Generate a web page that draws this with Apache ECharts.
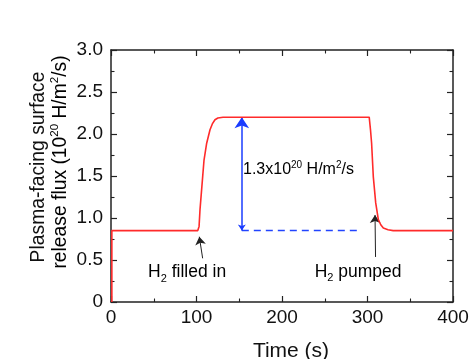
<!DOCTYPE html>
<html><head><meta charset="utf-8">
<script src="https://cdn.jsdelivr.net/npm/echarts@6/dist/echarts.min.js"></script>
<style>html,body{margin:0;padding:0;background:#fff}#c{width:474px;height:359px}</style>
</head><body><div id="c"></div>
<script>
// ---- data ----
const timeS = [1, 1, 101.5, 103, 104.1, 107.2, 108.8, 111.9, 115.8, 118.5, 121.6, 125, 131, 140, 302, 303.5, 304.8, 306.8, 309.6, 312.7, 315.5, 318.5, 324, 330, 400];
const flux  = [0, 0.85, 0.85, 0.9, 1.10, 1.49, 1.69, 1.89, 2.05, 2.12, 2.17, 2.19, 2.20, 2.20, 2.20, 2.05, 1.89, 1.49, 1.18, 0.98, 0.92, 0.88, 0.86, 0.85, 0.85];
const xTickValues = [0, 100, 200, 300, 400];
const yTickLabels = ['0', '0.5', '1.0', '1.5', '2.0', '2.5', '3.0'];
const deltaTime = 153;          // position of the blue double arrow (s)
const baseFlux = 0.85;
const peakFlux = 2.2;
const dashEndTime = 293;
const fillArrow = [[107.2, 0.52], [103.3, 0.777]];
const pumpArrow = [[309.4, 0.536], [308.8, 1.036]];

const FONT = 'Liberation Sans, Arial, sans-serif';
const AX = '#222';

const chart = echarts.init(document.getElementById('c'), null, {renderer: 'canvas'});

function axisCommon(pos, showLabel, isY) {
  return {
    type: 'value', position: pos,
    min: 0, max: isY ? 3 : 400, interval: isY ? 0.5 : 100,
    axisLine: {show: true, onZero: false, lineStyle: {color: AX, width: 1.5}},
    axisTick: {show: true, inside: true, length: 6, lineStyle: {color: AX, width: 1.2}},
    minorTick: {show: true, splitNumber: 2, length: 3.5, lineStyle: {color: AX, width: 1.1}},
    splitLine: {show: false},
    axisLabel: showLabel ? {
      show: true, color: '#111', fontSize: 19, fontFamily: FONT, margin: isY ? 8 : 6,
      formatter: isY ? (v => yTickLabels[Math.round(v / 0.5)]) : (v => String(xTickValues[Math.round(v / 100)]))
    } : {show: false}
  };
}

chart.setOption({
  animation: false,
  backgroundColor: '#fff',
  grid: {left: 111, right: 21, top: 50, bottom: 57},
  xAxis: [axisCommon('bottom', true, false), axisCommon('top', false, false)],
  yAxis: [axisCommon('left', true, true), axisCommon('right', false, true)],
  series: [
    {
      type: 'line', data: timeS.map((t, i) => [t, flux[i]]),
      showSymbol: false, symbol: 'none', smooth: false,
      lineStyle: {color: '#ff2b2b', width: 1.6}, z: 5
    },
    {
      type: 'line', data: [[deltaTime, baseFlux], [dashEndTime, baseFlux]],
      showSymbol: false, symbol: 'none',
      lineStyle: {color: '#2244ff', width: 1.5, type: [7, 5]}, z: 3
    },
    {
      type: 'lines', coordinateSystem: 'cartesian2d',
      data: [{coords: [[deltaTime, baseFlux], [deltaTime, peakFlux]]}],
      symbol: ['arrow', 'arrow'], symbolSize: [6, 11],
      lineStyle: {color: '#1a3cff', width: 1.5, opacity: 1}, z: 4
    },
    {
      type: 'lines', coordinateSystem: 'cartesian2d',
      data: [{coords: fillArrow}, {coords: pumpArrow}],
      symbol: ['none', 'arrow'], symbolSize: [5, 8],
      lineStyle: {color: '#222', width: 1, opacity: 1}, z: 4
    }
  ]
});

const px = (t, v) => chart.convertToPixel({xAxisIndex: 0, yAxisIndex: 0}, [t, v]);
const subsup = {
  sub: {fontSize: 11, fontFamily: FONT, color: '#111', verticalAlign: 'bottom', lineHeight: 24},
  n: {fontSize: 17.5, fontFamily: FONT, color: '#111', lineHeight: 22}
};
const pFlux = px(154.4, 1.571);
const pFillTxt = px(89, 0.35);
const pPumpTxt = px(289, 0.36);

chart.setOption({
  graphic: [
    {type: 'text', x: pFlux[0], y: pFlux[1], style: {
      text: '{m|1.3x10}{s|20}{m| H/m}{s|2}{m|/s}', align: 'left', verticalAlign: 'middle',
      rich: {m: {fontSize: 16, fontFamily: FONT, color: '#111', lineHeight: 20},
             s: {fontSize: 10, fontFamily: FONT, color: '#111', verticalAlign: 'top', lineHeight: 18}}
    }},
    {type: 'text', x: pFillTxt[0], y: pFillTxt[1], style: {
      text: '{n|H}{sub|2}{n| filled in}', align: 'center', verticalAlign: 'middle', rich: subsup
    }},
    {type: 'text', x: pPumpTxt[0], y: pPumpTxt[1], style: {
      text: '{n|H}{sub|2}{n| pumped}', align: 'center', verticalAlign: 'middle', rich: subsup
    }},
    {type: 'text', x: 39, y: 167, rotation: Math.PI / 2, style: {
      text: 'Plasma-facing surface', align: 'center', verticalAlign: 'middle',
      fontSize: 19.3, fontFamily: FONT, fill: '#111'
    }},
    {type: 'text', x: 61, y: 162, rotation: Math.PI / 2, style: {
      text: '{a|release flux (10}{b|20}{a| H/m}{b|2}{a|/s)}', align: 'center', verticalAlign: 'middle',
      rich: {a: {fontSize: 19.3, fontFamily: FONT, color: '#111', lineHeight: 24},
             b: {fontSize: 11.5, fontFamily: FONT, color: '#111', verticalAlign: 'top', lineHeight: 22}}
    }},
    {type: 'text', x: 291, y: 351, style: {
      text: 'Time (s)', align: 'center', verticalAlign: 'middle',
      fontSize: 21, fontFamily: FONT, fill: '#111'
    }}
  ]
});
</script>
</body></html>
